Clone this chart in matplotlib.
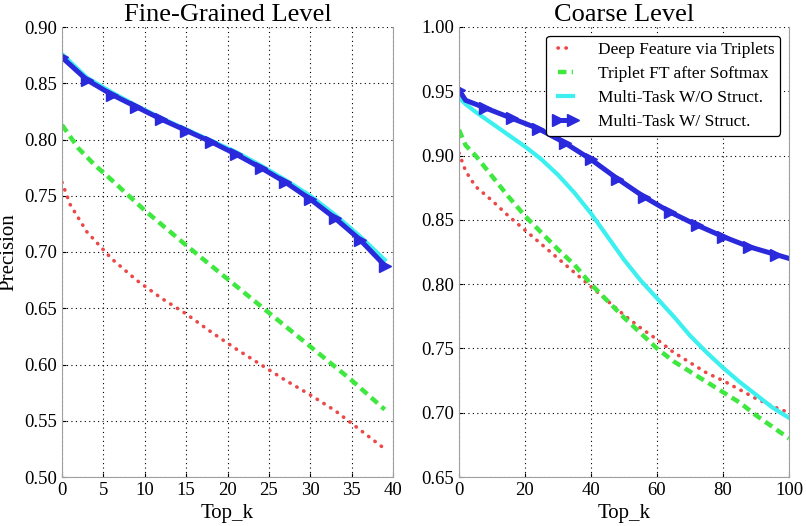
import numpy as np
import matplotlib
matplotlib.use("Agg")
import matplotlib.pyplot as plt

plt.rcParams['font.family'] = ['Liberation Serif', 'DejaVu Serif']

# ---- fine-grained level (left panel) ----
fine_k = [0, 3, 6, 9, 12, 15, 18, 21, 24, 27, 30, 33, 36, 39]
fine_blue = [0.873, 0.853, 0.840, 0.829, 0.818, 0.808, 0.798, 0.787, 0.775, 0.762, 0.747, 0.730, 0.711, 0.688]
fine_cyan = [0.876, 0.855, 0.842, 0.830, 0.819, 0.809, 0.799, 0.789, 0.777, 0.764, 0.750, 0.733, 0.714, 0.693]
fine_green_k = [0, 2, 4, 6, 10, 15, 20, 25, 30, 35, 39]
fine_green = [0.813, 0.792, 0.777, 0.764, 0.737, 0.706, 0.676, 0.646, 0.616, 0.586, 0.560]
fine_red_k = [0, 1, 3, 6, 9, 12, 15, 18, 21, 24, 27, 30, 33, 36, 39]
fine_red = [0.762, 0.742, 0.718, 0.694, 0.675, 0.659, 0.645, 0.629, 0.614, 0.600, 0.586, 0.573, 0.559, 0.542, 0.525]

# ---- coarse level (right panel) ----
coarse_k = [0, 2, 5, 10, 15, 20, 25, 30, 35, 40, 45, 50, 55, 60, 65, 70, 75, 80, 85, 90, 95, 100]
coarse_red = [0.902, 0.888, 0.876, 0.865, 0.853, 0.842, 0.831, 0.820, 0.809, 0.798, 0.787, 0.776,
              0.766, 0.757, 0.747, 0.739, 0.731, 0.725, 0.718, 0.711, 0.705, 0.700]
coarse_green = [0.920, 0.908, 0.900, 0.884, 0.868, 0.853, 0.840, 0.827, 0.815, 0.800, 0.787, 0.774,
                0.762, 0.750, 0.740, 0.732, 0.724, 0.716, 0.708, 0.698, 0.689, 0.680]
coarse_cyan = [0.945, 0.940, 0.934, 0.925, 0.916, 0.907, 0.897, 0.885, 0.871, 0.855, 0.837, 0.819,
               0.803, 0.789, 0.775, 0.760, 0.747, 0.735, 0.724, 0.714, 0.704, 0.696]
coarse_blue_k = [0, 2, 8, 16, 24, 32, 40, 48, 56, 64, 72, 80, 88, 96, 100]
coarse_blue = [0.951, 0.943, 0.937, 0.929, 0.921, 0.910, 0.897, 0.882, 0.868, 0.856, 0.846, 0.837, 0.829, 0.823, 0.820]

labels = ['Deep Feature via Triplets', 'Triplet FT after Softmax',
          'Multi-Task W/O Struct.', 'Multi-Task W/ Struct.']

RED = '#ec4848'
GREEN = '#3ee83e'
CYAN = '#3cf0f0'
BLUE = '#2a2adc'


def draw(ax, red_k, red, green_k, green, cyan_k, cyan, blue_k, blue, every):
    ax.plot(red_k, red, color=RED, lw=2.6, linestyle=(0, (0.1, 2.1)),
            dash_capstyle='round', label=labels[0])
    ax.plot(green_k, green, color=GREEN, lw=3.2, linestyle=(0, (1.9, 1.2)), label=labels[1])
    ax.plot(cyan_k, cyan, color=CYAN, lw=3.0, label=labels[2])
    marks = [i for i, k in enumerate(blue_k) if k % every == 0]  # markers only on the regular k steps
    ax.plot(blue_k, blue, color=BLUE, lw=3.6, marker='>', markersize=9,
            markevery=marks, label=labels[3])
    ax.grid(True, linestyle=(0, (1, 3)), color='black', lw=0.8)
    for s in ['left', 'right', 'bottom']:
        ax.spines[s].set_color('#a0a0a0')
    ax.spines['top'].set_visible(False)
    ax.tick_params(direction='in', length=3, labelsize=13.5, colors='black', top=False, right=False)
    ax.set_xlabel('Top_k', fontsize=15)


fig = plt.figure(figsize=(8.06, 5.26), dpi=100)
ax1 = fig.add_axes([62 / 806, 49 / 526, 331 / 806, 450 / 526])
ax2 = fig.add_axes([459 / 806, 49 / 526, 330 / 806, 450 / 526])

draw(ax1, fine_red_k, fine_red, fine_green_k, fine_green, fine_k, fine_cyan, fine_k, fine_blue, 3)
ax1.set_xlim(0, 40)
ax1.set_ylim(0.5, 0.9)
ax1.set_xticks(np.arange(0, 41, 5))
ax1.set_yticks(np.arange(0.5, 0.901, 0.05))
ax1.yaxis.set_major_formatter(matplotlib.ticker.FormatStrFormatter('%.2f'))
ax1.set_ylabel('Precision', fontsize=15)
ax1.set_title('Fine-Grained Level', fontsize=19, pad=4)

draw(ax2, coarse_k, coarse_red, coarse_k, coarse_green, coarse_k, coarse_cyan, coarse_blue_k, coarse_blue, 8)
ax2.set_xlim(0, 100)
ax2.set_ylim(0.65, 1.0)
ax2.set_xticks(np.arange(0, 101, 20))
ax2.set_yticks(np.arange(0.65, 1.001, 0.05))
ax2.yaxis.set_major_formatter(matplotlib.ticker.FormatStrFormatter('%.2f'))
ax2.set_title('Coarse Level', fontsize=19, pad=4)

leg = ax2.legend(loc='upper right', fontsize=12.5, handlelength=1.5, handletextpad=1.1,
                 numpoints=2, fancybox=True, framealpha=1, edgecolor='black',
                 borderaxespad=0.5, borderpad=0.35, labelspacing=0.45)
leg.get_frame().set_linewidth(0.9)

fig.savefig('out.png', dpi=100)
